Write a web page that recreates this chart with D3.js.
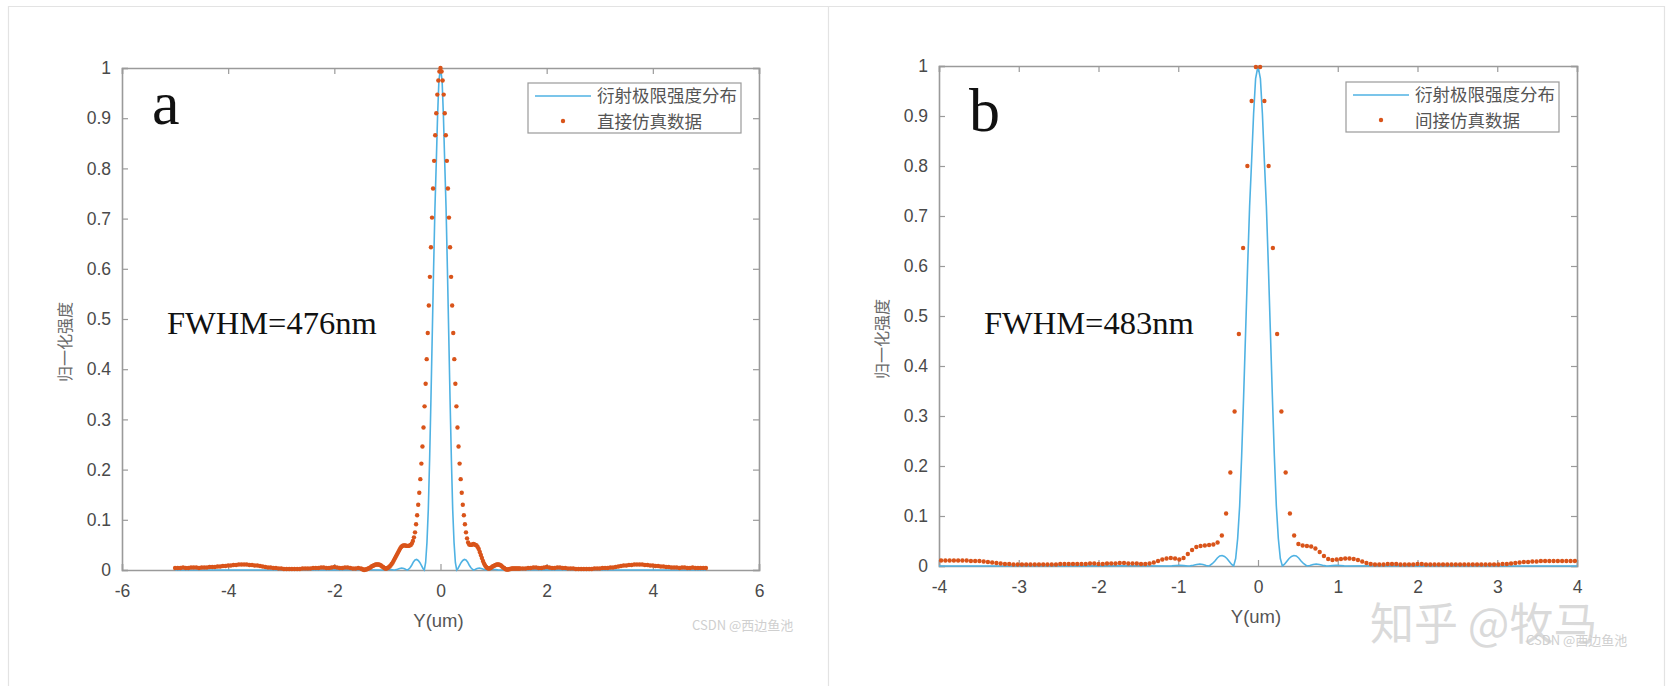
<!DOCTYPE html>
<html>
<head>
<meta charset="utf-8">
<script src="https://cdn.jsdelivr.net/npm/d3@7"></script>
<style>
  body { margin: 0; background: #fff; }
  svg { display: block; }
</style>
</head>
<body>
<div id="chart"></div>
<script>
// tick values
const yTicks = [0, 0.1, 0.2, 0.3, 0.4, 0.5, 0.6, 0.7, 0.8, 0.9, 1];
const aXTicks = [-6, -4, -2, 0, 2, 4, 6];
const bXTicks = [-4, -3, -2, -1, 0, 1, 2, 3, 4];

// diffraction limited curve (um, normalised intensity), same for both panels
const blueX = [-5, -4, -3, -2, -1.5, -1.12, -1.08, -1.03, -0.98, -0.93, -0.88, -0.85, -0.81, -0.77, -0.73, -0.69, -0.65, -0.62,
  -0.60, -0.57, -0.54, -0.51, -0.48, -0.45, -0.42, -0.39, -0.36, -0.33, -0.305, -0.28, -0.255, -0.23, -0.205, -0.18, -0.155,
  -0.13, -0.105, -0.08, -0.055, -0.03, 0, 0.03, 0.055, 0.08, 0.105, 0.13, 0.155, 0.18, 0.205, 0.23, 0.255, 0.28, 0.305,
  0.33, 0.36, 0.39, 0.42, 0.45, 0.48, 0.51, 0.54, 0.57, 0.60, 0.62, 0.65, 0.69, 0.73, 0.77, 0.81, 0.85, 0.88, 0.93, 0.98,
  1.03, 1.08, 1.12, 1.5, 2, 3, 4, 5];
const blueY = [0, 0.0001, 0.0001, 0.0002, 0.0004, 0, 0.0002, 0.001, 0.0015, 0.0008, 0, 0.0003, 0.0015, 0.003, 0.004, 0.003, 0.001, 0,
  0.0015, 0.005, 0.010, 0.016, 0.020, 0.021, 0.019, 0.015, 0.009, 0.003, 0, 0.015, 0.055, 0.12, 0.22, 0.34, 0.47,
  0.60, 0.72, 0.81, 0.905, 0.975, 1, 0.975, 0.905, 0.81, 0.72, 0.60, 0.47, 0.34, 0.22, 0.12, 0.055, 0.015, 0,
  0.003, 0.009, 0.015, 0.019, 0.021, 0.020, 0.016, 0.010, 0.005, 0.0015, 0, 0.001, 0.003, 0.004, 0.003, 0.0015, 0.0003, 0, 0.0008, 0.0015,
  0.001, 0.0002, 0, 0.0004, 0.0002, 0.0001, 0.0001, 0];

// panel a: direct simulation, centre sampled every 0.02 um from -1.5 to 1.5
const aCoreStart = -1.5, aCoreStep = 0.02;
const aCoreY = [
  0.003, 0.002, 0.001, 0.000, 0.001, 0.001, 0.002, 0.003, 0.004, 0.005, 0.007, 0.008, 0.009, 0.010, 0.011, 0.011, 0.011, 0.011,
  0.010, 0.009, 0.007, 0.006, 0.004, 0.003, 0.003, 0.004, 0.005, 0.007, 0.009, 0.012, 0.015, 0.019, 0.023, 0.027, 0.031, 0.035,
  0.039, 0.043, 0.046, 0.048, 0.049, 0.049, 0.049, 0.048, 0.048, 0.048, 0.049, 0.050, 0.053, 0.058, 0.065,
  0.075, 0.091, 0.109, 0.130, 0.154, 0.181, 0.212, 0.246, 0.284, 0.326, 0.371, 0.420, 0.472, 0.527, 0.584, 0.643, 0.702, 0.760,
  0.815, 0.866, 0.910, 0.947, 0.975, 0.993,
  1.000,
  0.993, 0.975, 0.947, 0.910, 0.866, 0.815, 0.760, 0.702, 0.643, 0.584, 0.527, 0.472, 0.420, 0.371, 0.326, 0.284, 0.246, 0.212,
  0.181, 0.154, 0.130, 0.109, 0.091, 0.075, 0.063, 0.055, 0.051, 0.050, 0.050, 0.051, 0.052, 0.051, 0.050, 0.049, 0.046, 0.042,
  0.036, 0.030, 0.024, 0.018, 0.013, 0.009, 0.006, 0.004, 0.003, 0.003, 0.004, 0.005, 0.007, 0.008, 0.009, 0.010, 0.011, 0.011,
  0.011, 0.010, 0.009, 0.007, 0.005, 0.004, 0.002, 0.001, 0.001, 0.001, 0.002, 0.002, 0.003, 0.003, 0.003, 0.003, 0.003, 0.003,
  0.003, 0.003, 0.003];
// panel a tails, every 0.05 um
const aTailStep = 0.05;
const aTailLeftStart = -5.0;
const aTailLeftY = [
  0.004, 0.004, 0.004, 0.005, 0.004, 0.004, 0.005, 0.005, 0.005, 0.004, 0.005, 0.005, 0.005, 0.006, 0.006,
  0.006, 0.007, 0.007, 0.008, 0.008, 0.009, 0.009, 0.010, 0.010, 0.011, 0.011, 0.011, 0.011, 0.010, 0.010, 0.009, 0.009, 0.008, 0.007, 0.006,
  0.005, 0.005, 0.004, 0.004, 0.003, 0.003, 0.002, 0.002, 0.002, 0.002, 0.002, 0.002, 0.002, 0.003, 0.003, 0.003, 0.003, 0.004, 0.004, 0.004,
  0.005, 0.005, 0.004, 0.004, 0.005, 0.006, 0.005, 0.004, 0.004, 0.005, 0.005, 0.004, 0.003, 0.003, 0.004];
const aTailRightStart = 1.55;
const aTailRightY = [
  0.003, 0.003, 0.004, 0.004, 0.005, 0.005, 0.004, 0.004, 0.005, 0.006, 0.005, 0.004, 0.004, 0.005, 0.005,
  0.004, 0.004, 0.003, 0.003, 0.003, 0.002, 0.002, 0.002, 0.002, 0.002, 0.002, 0.002, 0.003, 0.003, 0.003, 0.004, 0.004, 0.004, 0.005, 0.005,
  0.006, 0.007, 0.008, 0.009, 0.009, 0.010, 0.010, 0.011, 0.011, 0.011, 0.011, 0.010, 0.010, 0.009, 0.009, 0.008, 0.008, 0.007, 0.007, 0.006,
  0.006, 0.005, 0.005, 0.005, 0.004, 0.005, 0.005, 0.004, 0.004, 0.005, 0.004, 0.004, 0.004, 0.004, 0.004];

// panel b: indirect simulation, 150 samples across -4..4 (cell centres)
const bStart = -4, bStep = 8 / 150;
const bY = [
  0.011, 0.011, 0.011, 0.011, 0.011, 0.011, 0.011, 0.010, 0.010, 0.010,
  0.009, 0.008, 0.007, 0.006, 0.005, 0.004, 0.004, 0.003, 0.003, 0.003,
  0.003, 0.003, 0.003, 0.003, 0.003, 0.003, 0.003, 0.003, 0.004, 0.004,
  0.004, 0.004, 0.004, 0.004, 0.004, 0.005, 0.005, 0.004, 0.004, 0.005,
  0.005, 0.005, 0.006, 0.006, 0.005, 0.005, 0.005, 0.004, 0.004, 0.005,
  0.007, 0.010, 0.013, 0.015, 0.016, 0.015, 0.013, 0.016, 0.024, 0.032,
  0.038, 0.040, 0.041, 0.042, 0.043, 0.047, 0.061, 0.105, 0.187, 0.309, 0.464, 0.636, 0.800, 0.930, 0.998,
  0.998, 0.930, 0.800, 0.636, 0.464, 0.309, 0.187, 0.105, 0.061, 0.044, 0.041, 0.040, 0.039, 0.035, 0.028,
  0.020, 0.014, 0.012, 0.013, 0.014, 0.015, 0.015, 0.014, 0.012, 0.009,
  0.006, 0.004, 0.003, 0.003, 0.003, 0.004, 0.004, 0.004, 0.003, 0.003,
  0.003, 0.003, 0.004, 0.004, 0.003, 0.003, 0.003, 0.003, 0.003, 0.003,
  0.003, 0.003, 0.003, 0.003, 0.003, 0.003, 0.003, 0.003, 0.003, 0.003,
  0.003, 0.003, 0.004, 0.004, 0.005, 0.006, 0.007, 0.008, 0.008, 0.009,
  0.009, 0.010, 0.010, 0.010, 0.010, 0.010, 0.010, 0.010, 0.010, 0.010];

const lineName = "衍射极限强度分布";
const aDotName = "直接仿真数据";
const bDotName = "间接仿真数据";
const yLabel = "归一化强度";
const xLabel = "Y(um)";

const width = 1673;
const height = 686;
const blue = "#4fb2e3";
const orange = "#d9541a";
const axisGrey = "#9a9a9a";
const tickText = "#4a4a4a";

function gridPoints(start, step, ys) {
  return ys.map((y, i) => ({ x: start + i * step, y: y }));
}

const aDots = [
  ...gridPoints(aTailLeftStart, aTailStep, aTailLeftY),
  ...gridPoints(aCoreStart, aCoreStep, aCoreY),
  ...gridPoints(aTailRightStart, aTailStep, aTailRightY)
];
const bDots = gridPoints(bStart + bStep / 2, bStep, bY);
const blueLine = blueX.map((x, i) => ({ x: x, y: blueY[i] }));

const svg = d3.select("#chart").append("svg")
  .attr("width", width)
  .attr("height", height);

// outer frame of the screenshot
const frame = svg.append("g").attr("stroke", "#e3e3e3").attr("stroke-width", 1.2);
frame.append("line").attr("x1", 8).attr("x2", 1665).attr("y1", 6.5).attr("y2", 6.5);
frame.append("line").attr("x1", 8.5).attr("x2", 8.5).attr("y1", 6).attr("y2", 686);
frame.append("line").attr("x1", 828.5).attr("x2", 828.5).attr("y1", 6).attr("y2", 686);
frame.append("line").attr("x1", 1664.5).attr("x2", 1664.5).attr("y1", 6).attr("y2", 686);

function drawPanel(cfg) {
  const g = svg.append("g");
  const x = d3.scaleLinear().domain(cfg.xDomain).range([cfg.left, cfg.right]);
  const y = d3.scaleLinear().domain([0, 1]).range([cfg.bottom, cfg.top]);

  const clipId = "clip-" + cfg.letter;
  svg.append("clipPath").attr("id", clipId)
    .append("rect")
    .attr("x", cfg.left).attr("y", cfg.top - 4)
    .attr("width", cfg.right - cfg.left).attr("height", cfg.bottom - cfg.top + 8);

  // axes with ticks inside on all four sides
  const tickLen = 6;
  const bottomAxis = g.append("g")
    .attr("transform", `translate(0,${cfg.bottom})`)
    .call(d3.axisBottom(x).tickValues(cfg.xTicks).tickSize(-tickLen).tickPadding(15).tickFormat(d => String(d)));
  const topAxis = g.append("g")
    .attr("transform", `translate(0,${cfg.top})`)
    .call(d3.axisTop(x).tickValues(cfg.xTicks).tickSize(-tickLen).tickFormat(""));
  const leftAxis = g.append("g")
    .attr("transform", `translate(${cfg.left},0)`)
    .call(d3.axisLeft(y).tickValues(yTicks).tickSize(-tickLen).tickPadding(11).tickFormat(d => String(+d.toFixed(1))));
  const rightAxis = g.append("g")
    .attr("transform", `translate(${cfg.right},0)`)
    .call(d3.axisRight(y).tickValues(yTicks).tickSize(-tickLen).tickFormat(""));

  [bottomAxis, topAxis, leftAxis, rightAxis].forEach(a => {
    a.select(".domain").attr("stroke", axisGrey).attr("stroke-width", 1.6);
    a.selectAll(".tick line").attr("stroke", axisGrey).attr("stroke-width", 1.2);
    a.selectAll("text")
      .attr("fill", tickText)
      .style("font-family", "'Liberation Sans', Arial, sans-serif")
      .style("font-size", "17.5px");
  });

  const plot = g.append("g").attr("clip-path", `url(#${clipId})`);

  plot.append("path")
    .datum(blueLine)
    .attr("fill", "none")
    .attr("stroke", blue)
    .attr("stroke-width", 1.6)
    .attr("d", d3.line().x(d => x(d.x)).y(d => y(d.y)));

  plot.selectAll(".dot")
    .data(cfg.dots)
    .enter().append("circle")
    .attr("class", "dot")
    .attr("cx", d => x(d.x))
    .attr("cy", d => y(d.y))
    .attr("r", 2.2)
    .attr("fill", orange);

  // axis labels
  g.append("text")
    .attr("x", (cfg.left + cfg.right) / 2 - 2)
    .attr("y", cfg.bottom + 57)
    .attr("text-anchor", "middle")
    .attr("fill", "#555")
    .style("font-family", "'Liberation Sans', Arial, sans-serif")
    .style("font-size", "18.5px")
    .text(xLabel);

  g.append("text")
    .attr("transform", `translate(${cfg.left - 51},${(cfg.top + cfg.bottom) / 2 + 23}) rotate(-90)`)
    .attr("text-anchor", "middle")
    .attr("fill", "#6a6a6a")
    .style("font-family", "'Noto Sans CJK SC', sans-serif")
    .style("font-size", "16px")
    .text(yLabel);

  // panel letter and FWHM note
  g.append("text")
    .attr("x", cfg.left + 30)
    .attr("y", cfg.letterY)
    .attr("fill", "#111")
    .style("font-family", "'Liberation Serif', 'Times New Roman', serif")
    .style("font-size", "62px")
    .text(cfg.letter);

  g.append("text")
    .attr("x", cfg.left + 45)
    .attr("y", 334)
    .attr("fill", "#111")
    .style("font-family", "'Liberation Serif', 'Times New Roman', serif")
    .style("font-size", "32.5px")
    .text(cfg.fwhm);

  // legend
  const lg = g.append("g").attr("transform", `translate(${cfg.legendX},${cfg.legendY})`);
  lg.append("rect")
    .attr("width", 213).attr("height", 50)
    .attr("fill", "#fff")
    .attr("stroke", axisGrey)
    .attr("stroke-width", 1.2);
  lg.append("line")
    .attr("x1", 7).attr("x2", 63).attr("y1", 13).attr("y2", 13)
    .attr("stroke", blue).attr("stroke-width", 1.6);
  lg.append("circle")
    .attr("cx", 35).attr("cy", 38).attr("r", 2.2).attr("fill", orange);
  lg.selectAll(".lgtext")
    .data([lineName, cfg.dotName])
    .enter().append("text")
    .attr("x", 69)
    .attr("y", (d, i) => 19 + i * 26)
    .attr("fill", "#555")
    .style("font-family", "'Noto Sans CJK SC', sans-serif")
    .style("font-size", "17.5px")
    .text(d => d);
}

drawPanel({
  letter: "a", letterY: 124, fwhm: "FWHM=476nm",
  left: 122, right: 759, top: 68, bottom: 570,
  xDomain: [-6, 6], xTicks: aXTicks, dots: aDots,
  dotName: aDotName, legendX: 528, legendY: 83
});

drawPanel({
  letter: "b", letterY: 131, fwhm: "FWHM=483nm",
  left: 939, right: 1577, top: 66, bottom: 566,
  xDomain: [-4, 4], xTicks: bXTicks, dots: bDots,
  dotName: bDotName, legendX: 1346, legendY: 82
});

// watermarks
svg.append("text")
  .attr("x", 692).attr("y", 630)
  .attr("fill", "#cfcfcf")
  .style("font-family", "'Noto Sans CJK SC', sans-serif")
  .style("font-size", "13px")
  .text("CSDN @西边鱼池");

svg.append("text")
  .attr("x", 1370).attr("y", 640)
  .attr("fill", "#d4d4d4")
  .attr("fill-opacity", 0.85)
  .style("font-family", "'Noto Sans CJK SC', sans-serif")
  .style("font-size", "44px")
  .text("知乎 @牧马");

svg.append("text")
  .attr("x", 1526).attr("y", 645)
  .attr("fill", "#cfcfcf")
  .style("font-family", "'Noto Sans CJK SC', sans-serif")
  .style("font-size", "13px")
  .text("CSDN @西边鱼池");
</script>
</body>
</html>
